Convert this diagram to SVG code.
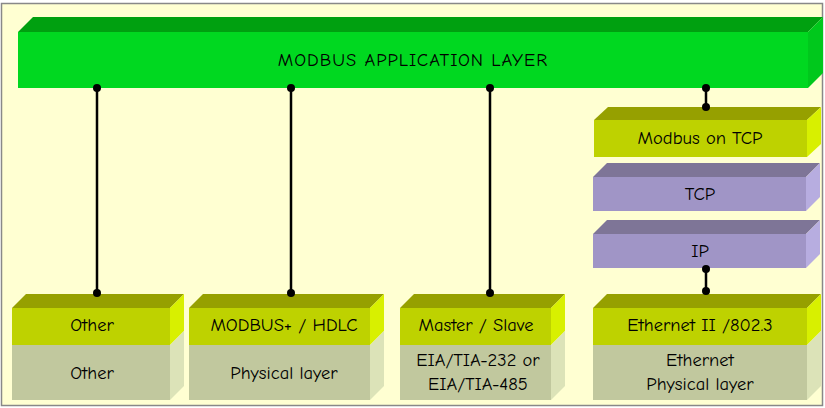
<svg xmlns="http://www.w3.org/2000/svg" width="825" height="408" viewBox="0 0 825 408">
<style>
text{font-family:"Comic Neue","DejaVu Sans","Liberation Sans",sans-serif;font-size:18.5px;fill:#000;text-anchor:middle}
.big{letter-spacing:1px}
.gf{fill:#00d820}.gt{fill:#00a010}.gs{fill:#00c81c}
.yf{fill:#bed200}.yt{fill:#96a000}.ys{fill:#d8f000}
.pf{fill:#a095c6}.pt{fill:#7e7597}.ps{fill:#b7ade0}
.hf{fill:#c1c89e}.hs{fill:#dce3b8}
.ln{stroke:#000;stroke-width:2.5;fill:none}
</style>
<rect x="1.5" y="3.5" width="821" height="402" fill="#ffffd2" stroke="#888" stroke-width="1.5"/>
<g id="app">
<polygon class="gt" points="18,32 33,17 823,17 808,32"/>
<polygon class="gs" points="808,32 823,17 823,73 808,88"/>
<rect class="gf" x="18" y="32" width="790" height="56"/>
<text class="big" x="413" y="66">MODBUS APPLICATION LAYER</text>
</g>
<g id="mtcp">
<polygon class="yt" points="594,120 608,107 821,107 807,120"/>
<polygon class="ys" points="807,120 821,107 821,144 807,157"/>
<rect class="yf" x="594" y="120" width="213" height="37"/>
<text x="700" y="144">Modbus on TCP</text>
</g>
<g id="tcp">
<polygon class="pt" points="593,177 607,163 820,163 806,177"/>
<polygon class="ps" points="806,177 820,163 820,197 806,211"/>
<rect class="pf" x="593" y="177" width="213" height="34"/>
<text x="700" y="200">TCP</text>
</g>
<g id="ip">
<polygon class="pt" points="593,234 607,220 820,220 806,234"/>
<polygon class="ps" points="806,234 820,220 820,254 806,268"/>
<rect class="pf" x="593" y="234" width="213" height="34"/>
<text x="700" y="257">IP</text>
</g>
<g id="b1">
<polygon class="yt" points="12,308 26,294 184,294 170,308"/>
<polygon class="ys" points="170,308 184,294 184,331 170,345"/>
<polygon class="hs" points="170,345 184,331 184,386 170,400"/>
<rect class="yf" x="12" y="308" width="158" height="37"/>
<rect class="hf" x="12" y="345" width="158" height="55"/>
<text x="92" y="331">Other</text>
<text x="92" y="379">Other</text>
</g>
<g id="b2">
<polygon class="yt" points="189,308 203,294 384,294 370,308"/>
<polygon class="ys" points="370,308 384,294 384,331 370,345"/>
<polygon class="hs" points="370,345 384,331 384,386 370,400"/>
<rect class="yf" x="189" y="308" width="181" height="37"/>
<rect class="hf" x="189" y="345" width="181" height="55"/>
<text x="284" y="331">MODBUS+ / HDLC</text>
<text x="284" y="379">Physical layer</text>
</g>
<g id="b3">
<polygon class="yt" points="400,308 414,294 565,294 551,308"/>
<polygon class="ys" points="551,308 565,294 565,331 551,345"/>
<polygon class="hs" points="551,345 565,331 565,386 551,400"/>
<rect class="yf" x="400" y="308" width="151" height="37"/>
<rect class="hf" x="400" y="345" width="151" height="55"/>
<text x="476" y="331">Master / Slave</text>
<text x="478" y="366">EIA/TIA-232 or</text>
<text x="478" y="390">EIA/TIA-485</text>
</g>
<g id="b4">
<polygon class="yt" points="593,308 607,294 821,294 807,308"/>
<polygon class="ys" points="807,308 821,294 821,331 807,345"/>
<polygon class="hs" points="807,345 821,331 821,386 807,400"/>
<rect class="yf" x="593" y="308" width="214" height="37"/>
<rect class="hf" x="593" y="345" width="214" height="55"/>
<text x="700" y="331">Ethernet II /802.3</text>
<text x="700" y="366">Ethernet</text>
<text x="700" y="390">Physical layer</text>
</g>
<g id="connectors">
<path class="ln" d="M97,88V293M291,88V293M490,88V293M706,88V107M706,269V291"/>
<g fill="#000">
<circle cx="97" cy="88" r="4"/><circle cx="97" cy="293" r="4"/>
<circle cx="291" cy="88" r="4"/><circle cx="291" cy="293" r="4"/>
<circle cx="490" cy="88" r="4"/><circle cx="490" cy="293" r="4"/>
<circle cx="706" cy="88" r="4"/><circle cx="706" cy="107" r="4"/>
<circle cx="706" cy="269" r="4"/><circle cx="706" cy="291" r="4"/>
</g>
</g>
</svg>
